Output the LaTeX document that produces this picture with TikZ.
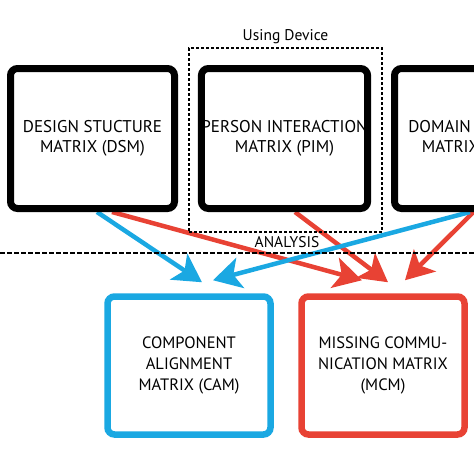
\documentclass[tikz,border=0pt]{standalone}
\usepackage{fontspec}
\setmainfont{PT Sans}
\usetikzlibrary{arrows.meta,calc,backgrounds}
\definecolor{camblue}{RGB}{26,168,226}
\definecolor{mcmred}{RGB}{232,66,52}

\begin{document}
\begin{tikzpicture}[x=1pt,y=-1pt,
	matbox/.style={draw,fill=white,line width=7pt,rounded corners=7pt,minimum width=164pt,minimum height=140pt,align=center,font=\fontsize{17}{20}\selectfont,inner sep=0pt},
	resbox/.style={matbox,line width=6.5pt,minimum width=163pt,minimum height=138pt,font=\fontsize{16.5}{21}\selectfont},
	flow/.style={line width=4.5pt,-{Stealth[length=28pt,width=31pt,inset=7pt]}}]
	\useasboundingbox (0,0) rectangle (474,474);
	\clip (0,0) rectangle (474,474);
	% input matrices
	\node[matbox] (dsm) at (92.5,138.5) {DESIGN STUCTURE\\MATRIX (DSM)};
	\node[matbox] (pim) at (284.5,138.5) {PERSON INTERACTION\\MATRIX (PIM)};
	\node[matbox] (dmm) at (476.5,138.5) {DOMAIN MAPPING\\MATRIX (DMM)};
	\node[draw,line width=2.5pt,dash pattern=on 3pt off 2pt,minimum width=193pt,minimum height=184pt,
		label={[font=\fontsize{15.5}{18}\selectfont,yshift=-1pt]above:Using Device}] (device) at (285.5,140) {};
	% analysis line
	\coordinate (al) at (0,253);
	\coordinate (ar) at (474,253);
	\draw[line width=2.5pt,dash pattern=on 4.5pt off 2.5pt] (al) -- (ar);
	\node[font=\fontsize{15.5}{18}\selectfont] (analysis) at (287,242) {ANALYSIS};
	% results
	\node[resbox,draw=camblue] (cam) at (189,365.5) {COMPONENT\\ALIGNMENT\\MATRIX (CAM)};
	\node[resbox,draw=mcmred] (mcm) at (383,365.5) {MISSING COMMU-\\NICATION MATRIX\\(MCM)};
	\coordinate (cam1) at ($(cam.north)+(13,-11)$);
	\coordinate (cam2) at ($(cam.north)+(24,-13)$);
	\coordinate (mcm1) at ($(mcm.north)+(-21,-13)$);
	\coordinate (mcm2) at ($(mcm.north)+(5,-11)$);
	\coordinate (mcm3) at ($(mcm.north)+(22,-13)$);
	\begin{scope}[on background layer]
	\draw[flow,mcmred] ([xshift=19.5pt]dsm.south) -- (mcm1);
	\draw[flow,mcmred] ([xshift=10.5pt]pim.south) -- (mcm2);
	\draw[flow,mcmred] ([xshift=-3pt]dmm.south) -- (mcm3);
	\draw[flow,camblue] ([xshift=4.5pt]dsm.south) -- (cam1);
	\draw[flow,camblue] ([xshift=-6.5pt]dmm.south) -- (cam2);
	\end{scope}
\end{tikzpicture}
\end{document}
